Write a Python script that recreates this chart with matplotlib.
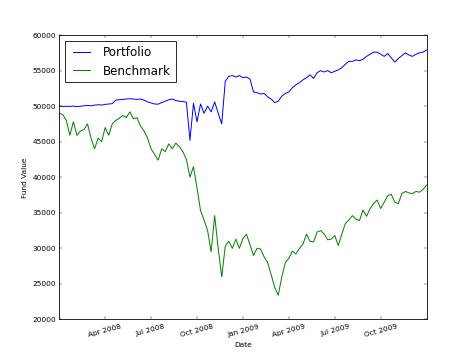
import matplotlib
matplotlib.use('agg')
import matplotlib.pyplot as plt
import matplotlib.dates as mdates
import pandas as pd

# weekly values, Jan 2008 - Dec 2009
dates = pd.date_range('2008-01-02', periods=105, freq='7D')

portfolio = [50000, 49950, 49980, 49970, 50000, 49950, 49980, 50050, 50100, 50050,
             50150, 50200, 50150, 50250, 50300, 50350, 50850, 50900, 50950, 51000,
             51050, 51000, 50950, 51000, 50850, 50600, 50450, 50300, 50280, 50500,
             50700, 50900, 51000, 50800, 50700, 50650, 50550, 45200, 50400, 47800,
             50300, 49000, 50000, 49200, 50600, 49000, 47500, 53500, 54200, 54300,
             54100, 54300, 54000, 54100, 53800, 52000, 51900, 51700, 51800, 51300,
             51000, 50500, 50700, 51400, 51800, 52000, 52600, 53000, 53300, 53700,
             54000, 54400, 53900, 54700, 55000, 54800, 55000, 54700, 54900, 55100,
             55400, 55900, 56300, 56300, 56500, 56400, 56600, 57000, 57300, 57600,
             57600, 57300, 57000, 57400, 56800, 56200, 56700, 57100, 57500, 57200,
             57000, 57300, 57500, 57600, 57900]

benchmark = [49000, 48800, 48000, 45900, 47800, 45900, 46500, 46700, 47500, 45500,
             44000, 45500, 45000, 47000, 45900, 47500, 48000, 48300, 48700, 48400,
             49200, 48200, 48400, 47200, 46500, 45500, 44000, 43200, 42400, 44000,
             43600, 44700, 44000, 44800, 44300, 43600, 42500, 40000, 41500, 38500,
             35300, 34000, 32500, 29500, 34600, 30000, 26000, 30300, 31000, 30000,
             31300, 30000, 31400, 32000, 30500, 29000, 30000, 29900, 28800, 28000,
             26300, 24500, 23400, 26000, 28000, 28600, 29600, 29200, 30000, 30600,
             32000, 31000, 30900, 32300, 32500, 32000, 31200, 31300, 31800, 30400,
             32000, 33500, 34000, 34600, 34100, 33900, 35400, 34500, 35600, 36300,
             36800, 35600, 36500, 37400, 37600, 36500, 36300, 37700, 38000, 37800,
             37700, 38000, 37900, 38300, 38900]

plt.style.use('classic')
fig = plt.figure(figsize=(8, 6), dpi=59.25, facecolor='white')
ax = fig.add_subplot(111)
ax.plot(dates, portfolio, color='b', linewidth=1.2, label='Portfolio')
ax.plot(dates, benchmark, color='g', linewidth=1.2, label='Benchmark')

ax.set_xlim(dates[0], dates[-1])
ax.set_ylim(20000, 60000)
ax.set_yticks(range(20000, 60001, 5000))
ax.xaxis.set_major_locator(mdates.MonthLocator(bymonth=[1, 4, 7, 10]))
ax.xaxis.set_major_formatter(mdates.DateFormatter('%b %Y'))
for lab in ax.get_xticklabels():
    lab.set_rotation(15)
    lab.set_fontsize(9)
for lab in ax.get_yticklabels():
    lab.set_fontsize(9)
ax.set_xlabel('Date', fontsize=9)
ax.set_ylabel('Fund Value', fontsize=9)
ax.legend(loc='upper left')

fig.savefig('out.png', dpi=59.25, facecolor='white')
